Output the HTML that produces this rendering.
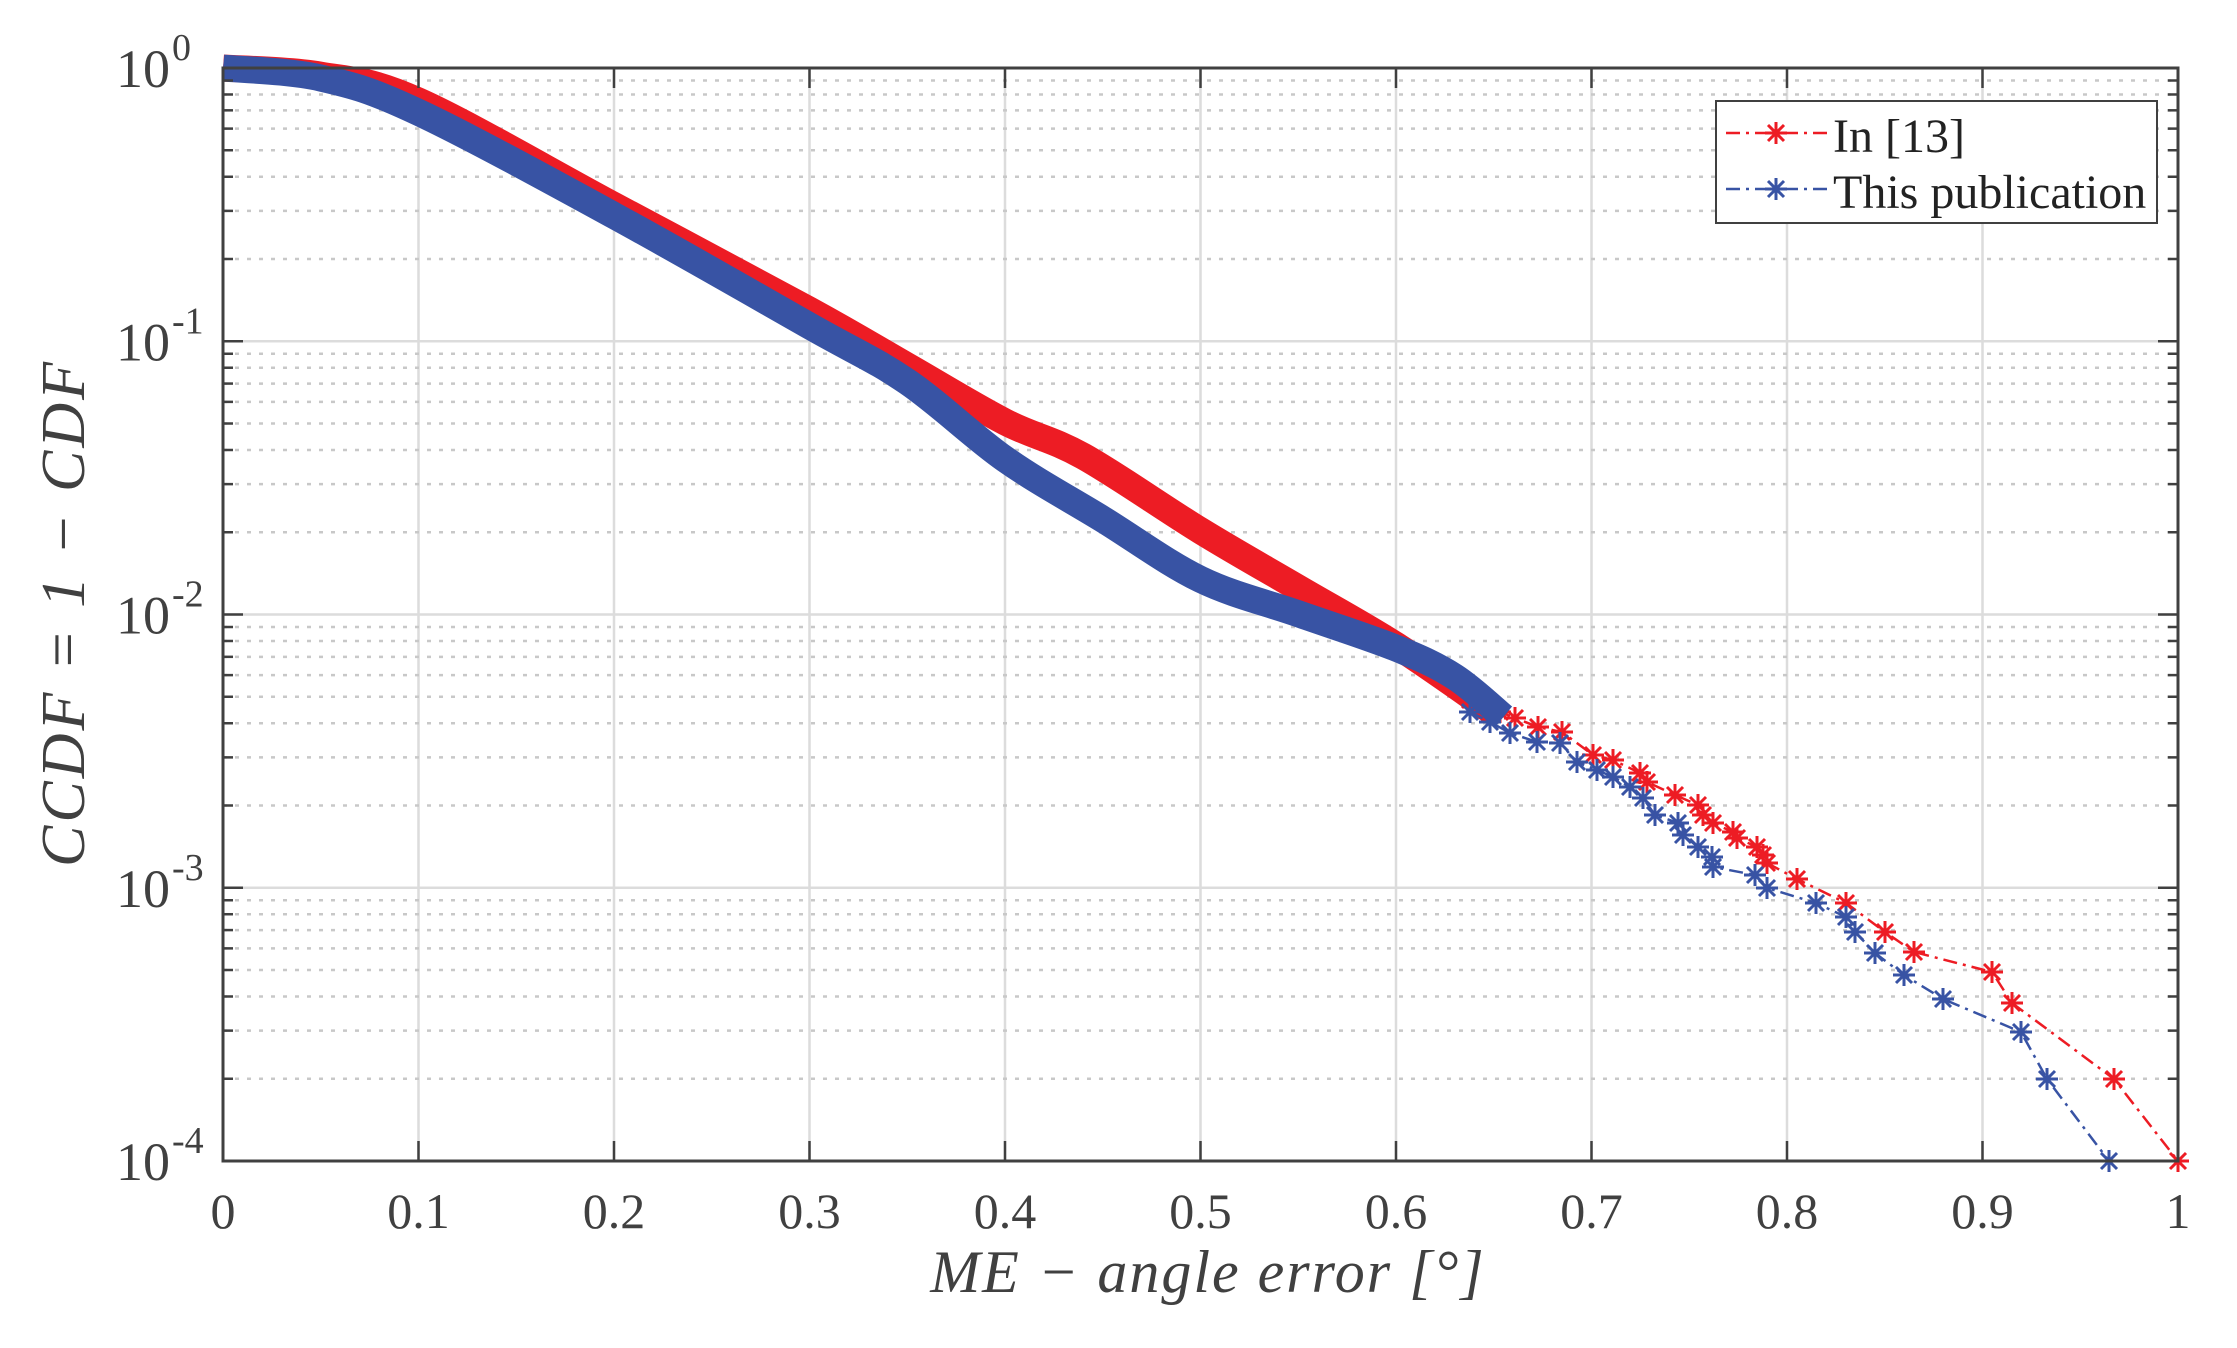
<!DOCTYPE html>
<html><head><meta charset="utf-8"><style>
html,body{margin:0;padding:0;background:#fff;}
svg{display:block;}
text{font-family:"Liberation Serif",serif;fill:#404040;}
</style></head><body>
<svg id="s" width="2237" height="1348" viewBox="0 0 2237 1348" xmlns="http://www.w3.org/2000/svg">
<g id="grid"></g>
<g id="data"></g>
<g id="axes"></g>
<g id="labels">
<text x="1208" y="1292" font-size="60" font-style="italic" text-anchor="middle" letter-spacing="2">ME − angle error [°]</text>
<text transform="translate(84,613) rotate(-90)" font-size="62" font-style="italic" text-anchor="middle" letter-spacing="3">CCDF = 1 − CDF</text>
</g>
<g id="legend">
<rect x="1716" y="101" width="441" height="122" fill="#fff" stroke="#404040" stroke-width="2"/>
<line x1="1726" y1="133" x2="1827" y2="133" stroke="#ed1c24" stroke-width="2.5" stroke-dasharray="14,6,3,6"/>
<line x1="1726" y1="189" x2="1827" y2="189" stroke="#3853a4" stroke-width="2.5" stroke-dasharray="14,6,3,6"/>
<text x="1833" y="152" font-size="48" style="fill:#222">In [13]</text>
<text x="1833" y="208" font-size="48" style="fill:#222">This publication</text>
</g>
</svg>
<script>
var NS="http://www.w3.org/2000/svg";
function el(p,t,a){var e=document.createElementNS(NS,t);for(var k in a)e.setAttribute(k,a[k]);p.appendChild(e);return e;}
var L=223,R=2178,T=68,B=1161,D=273.25;
var grid=document.getElementById('grid'),axes=document.getElementById('axes'),data=document.getElementById('data'),labels=document.getElementById('labels'),leg=document.getElementById('legend');
function X(x){return L+x*(R-L);}
function Yd(yd){return T+(yd-47)*1.4325;}
for(var i=1;i<10;i++){var x=X(i/10);el(grid,'line',{x1:x,y1:T,x2:x,y2:B,stroke:'#dcdcdc','stroke-width':2.5});}
for(var d=0;d<4;d++){
 var y0=T+d*D;
 if(d>0)el(grid,'line',{x1:L,y1:y0,x2:R,y2:y0,stroke:'#dcdcdc','stroke-width':2.5});
 for(var m=2;m<10;m++){var y=T+(d+1)*D-Math.log10(m)*D;
  el(grid,'line',{x1:L,y1:y,x2:R,y2:y,stroke:'#c8c8c8','stroke-width':2.5,'stroke-dasharray':'4,8'});
  el(axes,'line',{x1:L,y1:y,x2:L+10,y2:y,stroke:'#404040','stroke-width':2.5});
  el(axes,'line',{x1:R,y1:y,x2:R-10,y2:y,stroke:'#404040','stroke-width':2.5});}
}
for(var d=0;d<=4;d++){var y=T+d*D;
 el(axes,'line',{x1:L,y1:y,x2:L+20,y2:y,stroke:'#404040','stroke-width':2.5});
 el(axes,'line',{x1:R,y1:y,x2:R-20,y2:y,stroke:'#404040','stroke-width':2.5});
 var t=el(labels,'text',{x:170,y:y+19,'font-size':54,'text-anchor':'end'});t.textContent='10';
 var s=el(labels,'text',{x:172,y:y-8,'font-size':38});s.textContent=d==0?'0':'-'+d;
}
for(var i=0;i<=10;i++){var x=X(i/10);
 el(axes,'line',{x1:x,y1:B,x2:x,y2:B-20,stroke:'#404040','stroke-width':2.5});
 el(axes,'line',{x1:x,y1:T,x2:x,y2:T+20,stroke:'#404040','stroke-width':2.5});
 var t=el(labels,'text',{x:x,y:1228,'font-size':50,'text-anchor':'middle'});t.textContent=(i==0?'0':i==10?'1':'0.'+i);}
el(axes,'rect',{x:L,y:T,width:R-L,height:B-T,fill:'none',stroke:'#404040','stroke-width':3});
var RED='#ed1c24',BLUE='#3853a4';
var rb=[[0,47],[0.05,52],[0.1,70],[0.2,143],[0.3,216],[0.35,255],[0.4,294],[0.44,318],[0.5,370],[0.55,410],[0.6,450],[0.65,497]];
var bb=[[0,47],[0.05,54],[0.1,78],[0.2,150],[0.3,227],[0.35,266],[0.4,320],[0.45,362],[0.5,404],[0.55,428],[0.6,452],[0.63,472],[0.655,500]];
function smooth(pts){var d='M'+pts[0][0]+','+pts[0][1];
 for(var i=0;i<pts.length-1;i++){var p0=pts[i-1]||pts[i],p1=pts[i],p2=pts[i+1],p3=pts[i+2]||p2;
  var c1=[p1[0]+(p2[0]-p0[0])/6,p1[1]+(p2[1]-p0[1])/6],c2=[p2[0]-(p3[0]-p1[0])/6,p2[1]-(p3[1]-p1[1])/6];
  d+=' C'+c1+' '+c2+' '+p2;}
 return d;}
function band(arr,c){var p=arr.map(function(a){return [X(a[0]),Yd(a[1])];});
 el(data,'path',{d:smooth(p),fill:'none',stroke:c,'stroke-width':27,'stroke-linejoin':'round','stroke-linecap':'butt'});}
var rm=[[1470,700],[1485,706],[1500,712],[1515,718],[1538,727],[1562,732],[1593,755],[1613,760],[1640,773],[1647,782],[1675,795],[1698,805],[1703,815],[1713,823],[1733,832],[1737,838],[1757,847],[1763,855],[1767,863],[1797,879],[1846,903],[1885,932],[1914,952],[1992,972],[2012,1003],[2114,1079],[2178,1161]];
var bm=[[1470,712],[1490,722],[1510,733],[1537,742],[1560,743],[1577,762],[1597,770],[1613,777],[1630,787],[1643,798],[1655,815],[1678,823],[1683,835],[1698,847],[1712,857],[1713,867],[1755,875],[1767,888],[1816,903],[1846,917],[1855,932],[1875,953],[1904,975],[1943,999],[2021,1032],[2047,1079],[2109,1161]];
function star(p,x,y,c){var r=11;var g=el(p,'g',{stroke:c,'stroke-width':3});
 el(g,'line',{x1:x-r,y1:y,x2:x+r,y2:y});el(g,'line',{x1:x,y1:y-r,x2:x,y2:y+r});
 el(g,'line',{x1:x-8,y1:y-8,x2:x+8,y2:y+8});el(g,'line',{x1:x-8,y1:y+8,x2:x+8,y2:y-8});}
function tail(m,c){el(data,'polyline',{points:m.map(function(a){return a.join(',')}).join(' '),fill:'none',stroke:c,'stroke-width':2.5,'stroke-dasharray':'14,6,3,6'});
 m.forEach(function(a){star(data,a[0],a[1],c);});}
band(rb,RED);tail(rm,RED);
band(bb,BLUE);tail(bm,BLUE);
document.getElementById('s').appendChild(leg);
star(leg,1776,133,RED);star(leg,1776,189,BLUE);
</script>
</body></html>
